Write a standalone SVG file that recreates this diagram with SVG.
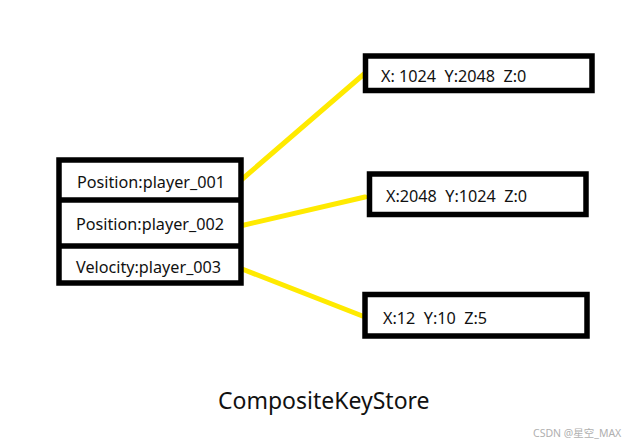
<svg xmlns="http://www.w3.org/2000/svg" width="635" height="445" viewBox="0 0 635 445">
<style>
.box{fill:#fff;stroke:#000;stroke-width:5.5}
.t{font-family:"Noto Sans","Open Sans","DejaVu Sans",sans-serif;font-size:16.2px;fill:#111}
.title{font-family:"Noto Sans","Open Sans","DejaVu Sans",sans-serif;font-size:23px;fill:#111}
.wm{font-family:"Noto Sans","Noto Sans CJK SC",sans-serif;font-size:10.5px;fill:#b0b0b0}
.ln{stroke:#FFEA00;stroke-width:5;stroke-linecap:round;fill:none}
</style>
<rect width="635" height="445" fill="#fff"/>
<g id="connectors">
<line class="ln" x1="240" y1="181" x2="364" y2="74"/>
<line class="ln" x1="240" y1="226" x2="365" y2="197"/>
<line class="ln" x1="239.5" y1="268" x2="365" y2="317"/>
</g>
<g id="store">
<rect class="box" x="59" y="160" width="182" height="123"/>
<line x1="59" y1="200" x2="241" y2="200" stroke="#000" stroke-width="5.5"/>
<line x1="59" y1="246" x2="241" y2="246" stroke="#000" stroke-width="5.5"/>
</g>
<g id="key1"><text class="t" x="77" y="188">Position:player_001</text></g>
<g id="key2"><text class="t" x="76" y="230">Position:player_002</text></g>
<g id="key3"><text class="t" x="76" y="273">Velocity:player_003</text></g>
<g id="val1">
<rect class="box" x="365.5" y="56" width="226.5" height="34.5"/>
<text class="t" x="381" y="82" xml:space="preserve">X: 1024  Y:2048  Z:0</text>
</g>
<g id="val2">
<rect class="box" x="369.5" y="174" width="216.5" height="40.5"/>
<text class="t" x="386" y="202" xml:space="preserve">X:2048  Y:1024  Z:0</text>
</g>
<g id="val3">
<rect class="box" x="365" y="294.5" width="222" height="41.5"/>
<text class="t" x="383" y="324" xml:space="preserve">X:12  Y:10  Z:5</text>
</g>
<g id="title"><text class="title" x="218" y="409">CompositeKeyStore</text></g>
<text class="wm" x="533" y="437">CSDN @星空_MAX</text>
</svg>
